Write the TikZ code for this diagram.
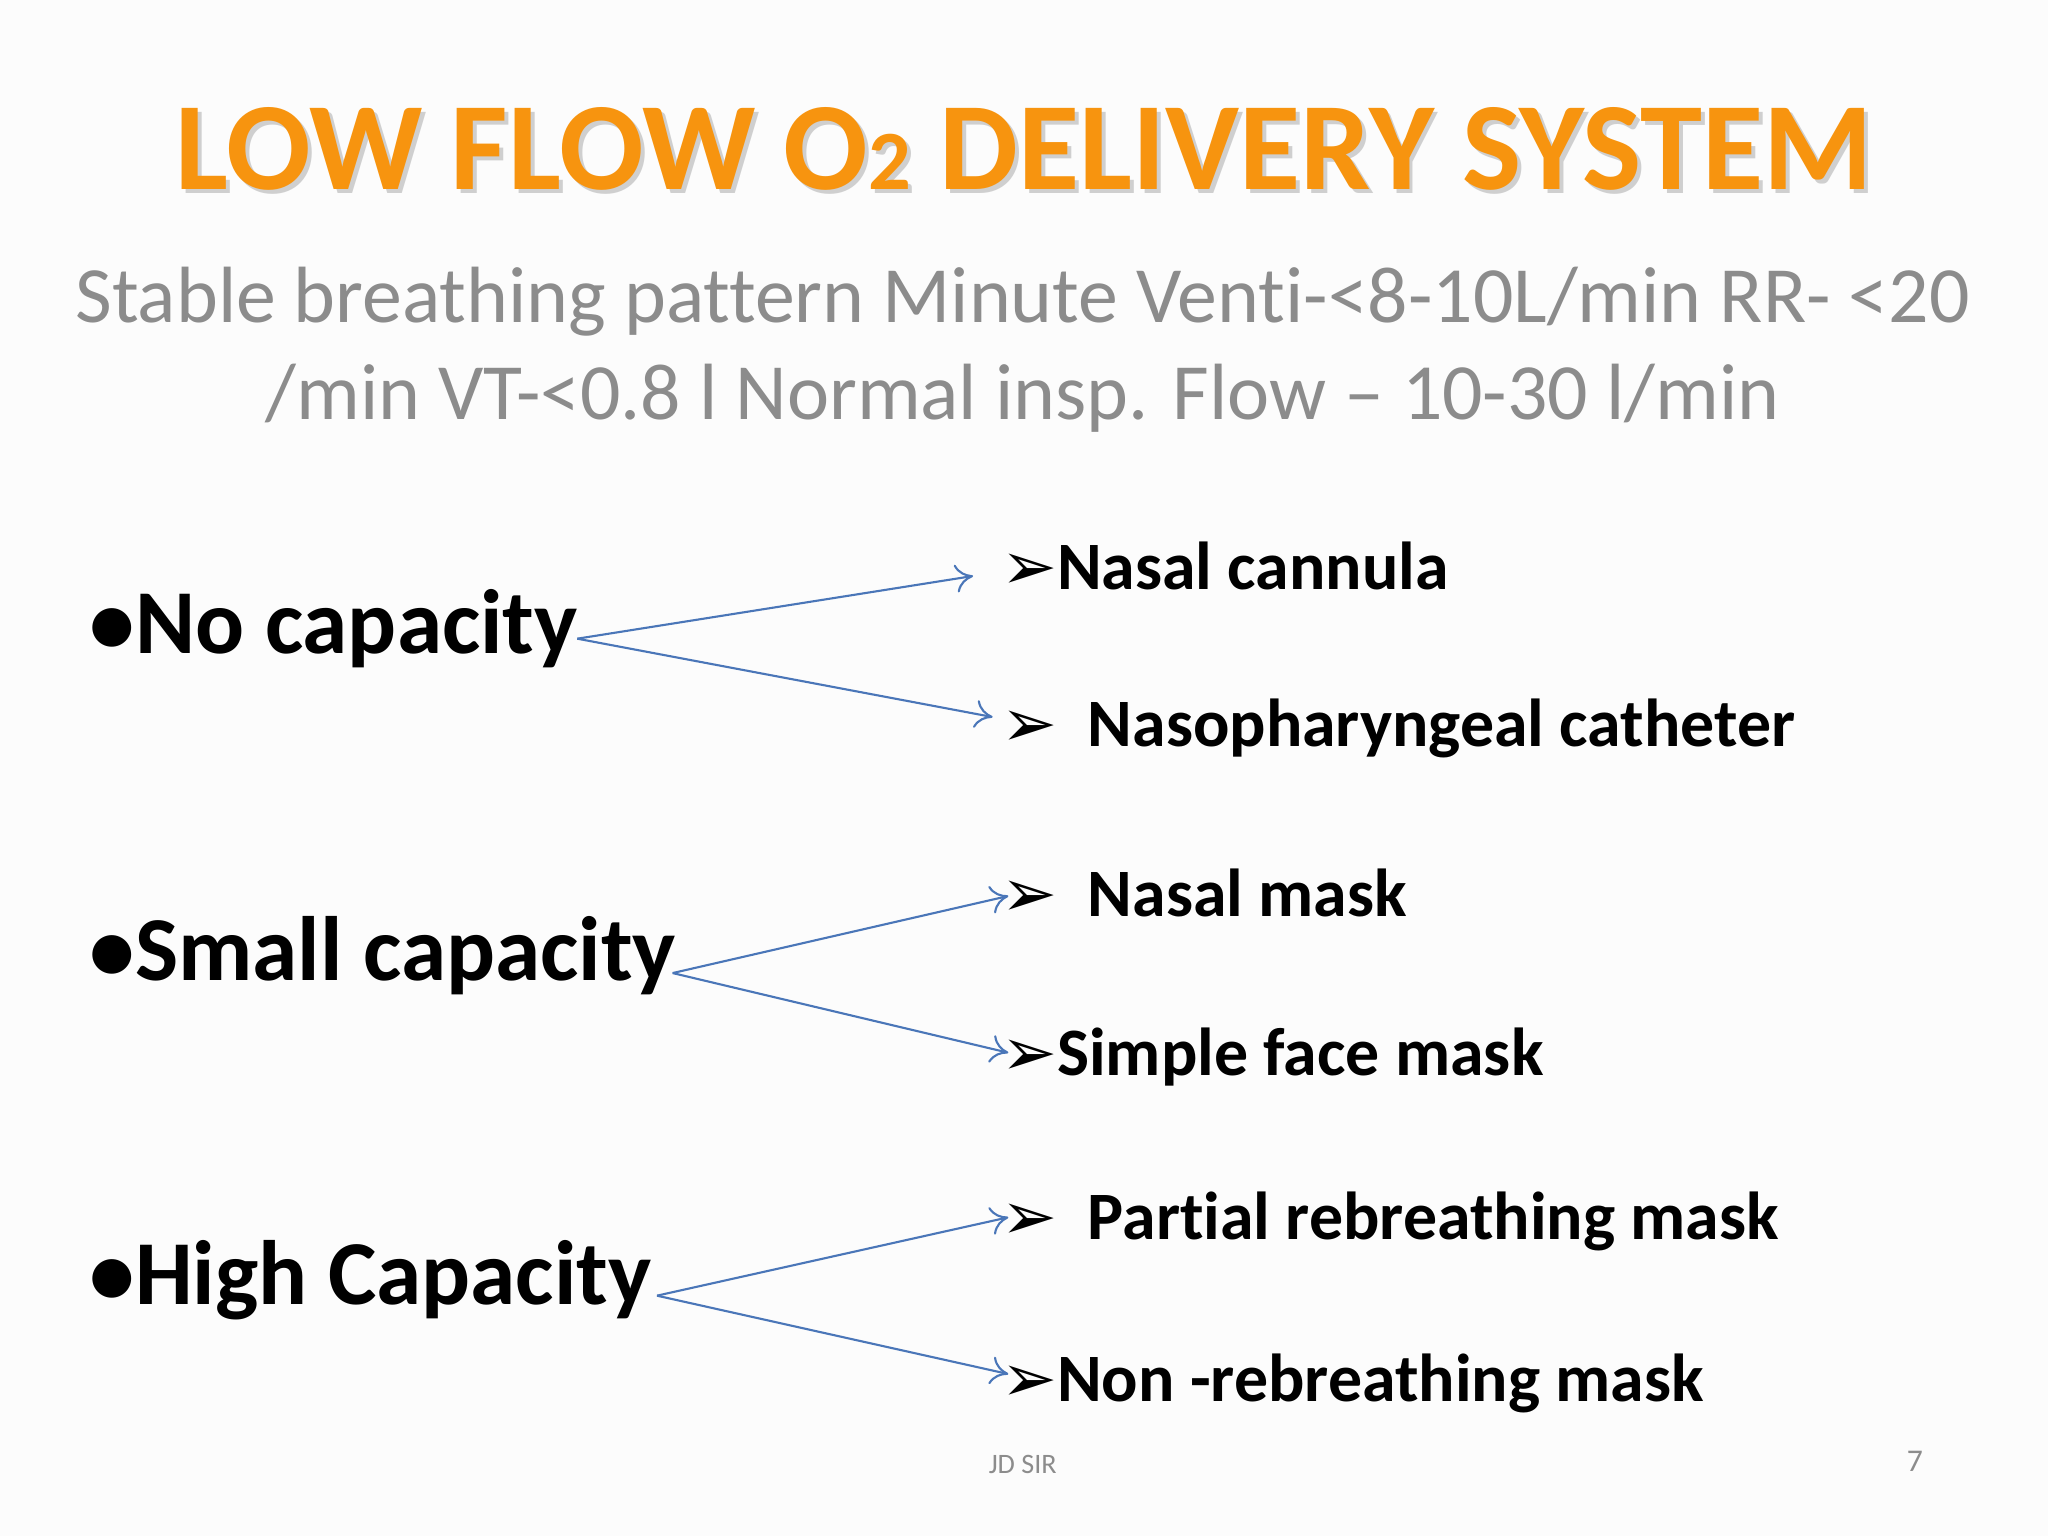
\documentclass[tikz,border=0pt]{standalone}
\usepackage{fontspec}
\setmainfont[Ligatures=NoCommon]{Carlito}
\newfontfamily\symfont{DejaVu Sans}
\usetikzlibrary{arrows.meta}
\definecolor{ttl}{HTML}{F7940F}
\definecolor{sub}{HTML}{8C8C8C}
\definecolor{arr}{HTML}{4A76B8}
\tikzset{
  cat/.style={anchor=west,font=\fontsize{26}{30}\selectfont\bfseries,inner sep=0pt},
  item/.style={anchor=west,font=\fontsize{19.3}{24}\selectfont\bfseries,inner sep=0pt},
  link/.style={draw=arr,line width=0.6pt,-{To[length=5pt,width=8pt]}}
}
\newcommand{\pt}{{\symfont\fontsize{19}{22}\selectfont ➢}}
\newcommand{\ttltext}{LOW FLOW O{\fontsize{24}{24}\selectfont 2} DELIVERY SYSTEM}
\begin{document}
\begin{tikzpicture}[x=0.013061cm,y=-0.013061cm]
\fill[white!98!gray] (0,0) rectangle (1568,1176);
\useasboundingbox (0,0) rectangle (1568,1176);
\node[font=\fontsize{35.6}{40}\selectfont\bfseries,text=black!30,opacity=0.6] at (787,117) {\ttltext};
\node[font=\fontsize{35.6}{40}\selectfont\bfseries,text=ttl] (title) at (784,114) {\ttltext};
\node[font=\fontsize{22.7}{27.5}\selectfont,text=sub,align=center] (sub) at (783,268) {Stable breathing pattern Minute Venti-<8-10L/min RR- <20\\/min VT-<0.8 l Normal insp. Flow -- 10-30 l/min};
\node[cat] (c1) at (68,481) {•No capacity};
\node[cat] (c2) at (68,732) {•Small capacity};
\node[cat] (c3) at (68,980) {•High Capacity};
\node[item] (i1) at (766,433) {\pt Nasal cannula};
\node[item] (i2) at (766,558) {\pt\ \ Nasopharyngeal catheter};
\node[item] (i3) at (766,684) {\pt\ \ Nasal mask};
\node[item] (i4) at (766,809) {\pt Simple face mask};
\node[item] (i5) at (766,935) {\pt\ \ Partial rebreathing mask};
\node[item] (i6) at (766,1059) {\pt Non -rebreathing mask};
\coordinate (s1) at (442,489); \coordinate (t1) at (745,441); \coordinate (t2) at (760,549);
\coordinate (s2) at (515,745); \coordinate (t3) at (772,686); \coordinate (t4) at (772,806);
\coordinate (s3) at (503,992); \coordinate (t5) at (772,932); \coordinate (t6) at (772,1052);
\draw[link] (s1) -- (t1); \draw[link] (s1) -- (t2);
\draw[link] (s2) -- (t3); \draw[link] (s2) -- (t4);
\draw[link] (s3) -- (t5); \draw[link] (s3) -- (t6);
\node[font=\fontsize{8}{10}\selectfont,text=sub] (ft) at (783,1121) {JD SIR};
\node[font=\fontsize{9}{10}\selectfont,text=sub] (pg) at (1466,1119) {7};
\end{tikzpicture}
\end{document}
